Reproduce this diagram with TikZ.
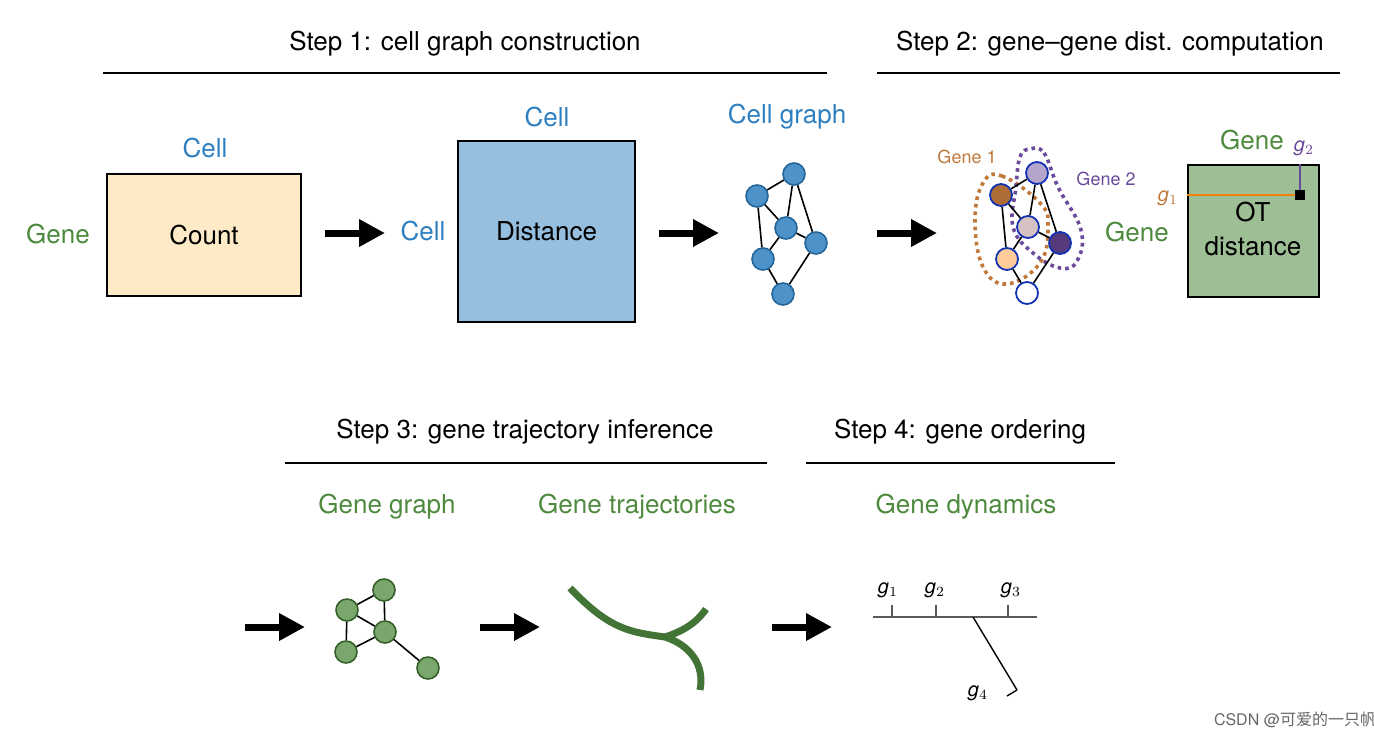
\documentclass[tikz,border=0pt]{standalone}
\usepackage{fontspec}
\setmainfont{TeX Gyre Heros}
\newfontfamily\cjk{Noto Sans CJK SC}
\usetikzlibrary{arrows.meta}
\definecolor{cblue}{HTML}{2E7FC0}
\definecolor{ggreen}{HTML}{4E8A3E}
\definecolor{gorange}{HTML}{C0793A}
\definecolor{gpurple}{HTML}{6A4A9A}
\begin{document}
\begin{tikzpicture}[x=0.5pt,y=-0.5pt,
  title/.style={font=\fontsize{13}{15}\selectfont},
  lab/.style={font=\fontsize{13}{15}\selectfont},
  bigarrow/.style={line width=3.5pt,-{Triangle[length=13pt,width=13pt]}},
  cnode/.style={circle,draw=cblue!80!black,fill=cblue!85,line width=0.8pt,minimum size=11pt,inner sep=0pt},
  gnode/.style={circle,draw=ggreen!70!black,fill=ggreen!75!white,line width=0.8pt,minimum size=11pt,inner sep=0pt},
  pnode/.style={circle,draw=blue!50!cblue!80!black,line width=0.9pt,minimum size=11pt,inner sep=0pt},
  edge/.style={line width=0.8pt},
  glab/.style={font=\fontsize{10}{12}\selectfont\itshape}]
\useasboundingbox (0,0) rectangle (1374,740);
% Step 1 & 2
\node[title] (t1) at (465,44) {Step 1: cell graph construction};
\draw[line width=0.7pt] (103,73) coordinate (l1a) -- (827,73) coordinate (l1b);
\node[title] (t2) at (1110,44) {Step 2: gene–gene dist. computation};
\draw[line width=0.7pt] (877,73) coordinate (l2a) -- (1340,73) coordinate (l2b);
% Count
\node[draw,line width=0.8pt,fill=yellow!25!orange!20!white,minimum width=97pt,minimum height=61pt,lab] (count) at (204,235) {Count};
\node[lab,text=cblue] (cc) at (205,148) {Cell};
\node[lab,text=ggreen] (cg) at (58,234) {Gene};
\coordinate (a1s) at (325,233); \coordinate (a1e) at (385,233);
\draw[bigarrow] (a1s) -- (a1e);
% Distance
\node[lab,text=cblue] (dc) at (423,231) {Cell};
\node[draw,line width=0.8pt,fill=cblue!50!white,minimum width=88.5pt,minimum height=90.5pt,lab] (dist) at (546.5,231.5) {Distance};
\node[lab,text=cblue] (dt) at (547,117) {Cell};
\coordinate (a2s) at (659,233); \coordinate (a2e) at (719,233);
\draw[bigarrow] (a2s) -- (a2e);
% Cell graph
\node[lab,text=cblue] (cgt) at (787,117) {Cell graph};
\node[cnode] (n1) at (794,174) {};
\node[cnode] (n2) at (757,196) {};
\node[cnode] (n3) at (786,228) {};
\node[cnode] (n4) at (816,243) {};
\node[cnode] (n5) at (763,259) {};
\node[cnode] (n6) at (783,294) {};
\foreach \a/\b in {n2/n1,n1/n3,n1/n4,n2/n3,n2/n5,n3/n4,n3/n5,n5/n6,n6/n4} \draw[edge] (\a) -- (\b);
\coordinate (a3s) at (877,233); \coordinate (a3e) at (937,233);
\draw[bigarrow] (a3s) -- (a3e);
% Gene graph (step 2)
\draw[gorange,line width=1.8pt,dotted] plot[smooth cycle,tension=0.7] coordinates {(983,183) (1002,176) (1040,203) (1048,227) (1040,263) (1007,284) (983,267) (975,220)};
\draw[gpurple,line width=1.8pt,dotted] plot[smooth cycle,tension=0.7] coordinates {(1030,149) (1044,153) (1058,187) (1081,230) (1077,261) (1060,268) (1033,253) (1013,227) (1016,187) (1020,157)};
\node[pnode,fill=gorange!90!black] (m1) at (1001,195) {};
\node[pnode,fill=gpurple!50!white] (m2) at (1037,173) {};
\node[pnode,fill=red!20!gray!40!white] (m3) at (1028,227) {};
\node[pnode,fill=gpurple!80!black] (m4) at (1060,243) {};
\node[pnode,fill=orange!40!white] (m5) at (1007,259) {};
\node[pnode,fill=white] (m6) at (1027,293) {};
\foreach \a/\b in {m1/m2,m2/m3,m2/m4,m1/m3,m1/m5,m3/m4,m3/m5,m5/m6,m6/m4} \draw[edge] (\a) -- (\b);
\node[text=gorange,font=\fontsize{9}{11}\selectfont] (gn1) at (967,157) {Gene 1};
\node[text=gpurple,font=\fontsize{9}{11}\selectfont] (gn2) at (1106,179) {Gene 2};
% OT distance
\node[draw,line width=0.8pt,fill=ggreen!55!white,minimum width=65.5pt,minimum height=66pt] (ot) at (1253.5,231) {};
\node[lab] (otl) at (1253,212) {OT};
\node[lab] (otd) at (1253,246) {distance};
\node[lab,text=ggreen] (ogt) at (1252,140) {Gene};
\node[lab,text=ggreen] (ogl) at (1137,232) {Gene};
\node[glab,text=gpurple] (g2t) at (1304,148) {g$_2$};
\node[glab,text=gorange] (g1t) at (1168,198) {g$_1$};
\coordinate (sq) at (1300,195);
\draw[orange!80!brown,line width=1.2pt] (ot.west |- sq) -- (sq);
\draw[gpurple,line width=1.2pt] (ot.north -| sq) -- (sq);
\fill (1295,190) rectangle (1305,200);
% Step 3 & 4
\node[title] (t3) at (525,432) {Step 3: gene trajectory inference};
\draw[line width=0.7pt] (285,463) coordinate (l3a) -- (767,463) coordinate (l3b);
\node[title] (t4) at (960,432) {Step 4: gene ordering};
\draw[line width=0.7pt] (806,463) coordinate (l4a) -- (1115,463) coordinate (l4b);
\node[lab,text=ggreen] (ggt) at (387,507) {Gene graph};
\node[lab,text=ggreen] (gtt) at (637,507) {Gene trajectories};
\node[lab,text=ggreen] (gdt) at (966,507) {Gene dynamics};
\coordinate (b1s) at (245,627); \coordinate (b1e) at (305,627);
\draw[bigarrow] (b1s) -- (b1e);
\coordinate (b2s) at (480,627); \coordinate (b2e) at (540,627);
\draw[bigarrow] (b2s) -- (b2e);
\coordinate (b3s) at (772,627); \coordinate (b3e) at (832,627);
\draw[bigarrow] (b3s) -- (b3e);
% gene graph
\node[gnode] (q1) at (384,590) {};
\node[gnode] (q2) at (347,610) {};
\node[gnode] (q3) at (385,632) {};
\node[gnode] (q4) at (346,652) {};
\node[gnode] (q5) at (428,668) {};
\foreach \a/\b in {q2/q1,q1/q3,q2/q3,q2/q4,q4/q3,q3/q5} \draw[edge] (\a) -- (\b);
% trajectories
\draw[ggreen!85!black,line width=3.5pt] (570,588) .. controls (610,630) and (630,632) .. (665,637) .. controls (690,645) and (705,665) .. (700,690);
\draw[ggreen!85!black,line width=3.5pt] (706,609) .. controls (695,625) and (680,632) .. (665,637);
% dynamics
\draw[gray!70!black,line width=0.9pt] (873,617) -- (1037,617);
\foreach \x in {892,936,1008} \draw[gray!70!black,line width=0.9pt] (\x,617) -- (\x,605);
\node[glab] (d1) at (888,590) {g$_1$};
\node[glab] (d2) at (935,590) {g$_2$};
\node[glab] (d3) at (1011,590) {g$_3$};
\draw[line width=0.7pt] (973,617) -- (1017,690);
\draw[line width=0.7pt] (1017,690) -- (1007,696);
\node[glab] (d4) at (978,693) {g$_4$};
\node[text=gray!80!black,font=\fontsize{8}{10}\selectfont] (wm) at (1295,720) {CSDN @{\cjk 可爱的一只帆}};
\end{tikzpicture}
\end{document}
